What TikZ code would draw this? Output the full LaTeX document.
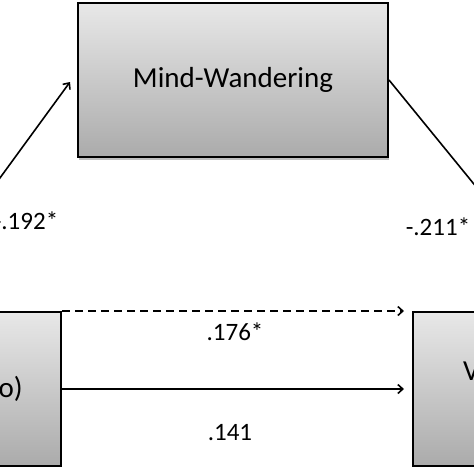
\documentclass[tikz,border=0pt]{standalone}
\usepackage{fontspec}
\setmainfont{Carlito}
\usetikzlibrary{arrows.meta,shadows}
\tikzset{
  boxstyle/.style={draw=black, line width=2pt, inner sep=0pt,
    top color=black!9, bottom color=black!33, shading angle=0},
  shadowed/.style={drop shadow={shadow xshift=1pt, shadow yshift=-3pt, opacity=0.25, fill=black}},
  arr/.style={line width=1.6pt, -{Straight Barb[length=5pt, width=9pt, line width=1.6pt]}},
  ln/.style={line width=1.6pt},
  coef/.style={font=\fontsize{25}{30}\selectfont, inner sep=0pt},
  big/.style={font=\fontsize{29}{34}\selectfont, inner sep=0pt}
}
\begin{document}
\begin{tikzpicture}[x=1pt,y=-1pt]
\useasboundingbox (0,0) rectangle (474,474);
\clip (0,0) rectangle (474,474);
\fill[white] (0,0) rectangle (474,474);
% boxes
\node[boxstyle, shadowed, minimum width=310pt, minimum height=154pt] (mw) at (233,80) {};
\node[big] (mwtext) at (233,80) {Mind-Wandering};
\node[boxstyle, minimum width=160pt, minimum height=154pt] (xbox) at (-19,389) {};
\node[big, anchor=base east] (xtext) at (23,397) {o)};
\node[boxstyle, minimum width=160pt, minimum height=154pt] (ybox) at (493,389) {};
\node[big, anchor=base west] (ytext) at (463,380) {V};
% connectors
\coordinate (lstart) at (-30,219);
\coordinate (ltip) at (70,82);
\draw[arr] (lstart) -- (ltip);
\coordinate (rend) at (500,216);
\draw[ln] (mw.east) -- (rend);
\draw[arr, dash pattern=on 8pt off 5pt, shorten >=8pt] (xbox.north east) -- (ybox.north west);
\draw[arr, shorten >=8pt] (xbox.east) -- (ybox.west);
% labels
\node[coef] (a) at (26,221) {-.192*};
\node[coef] (b) at (438,227) {-.211*};
\node[coef] (c) at (235,332) {.176*};
\node[coef] (d) at (230,433) {.141};
\end{tikzpicture}
\end{document}
